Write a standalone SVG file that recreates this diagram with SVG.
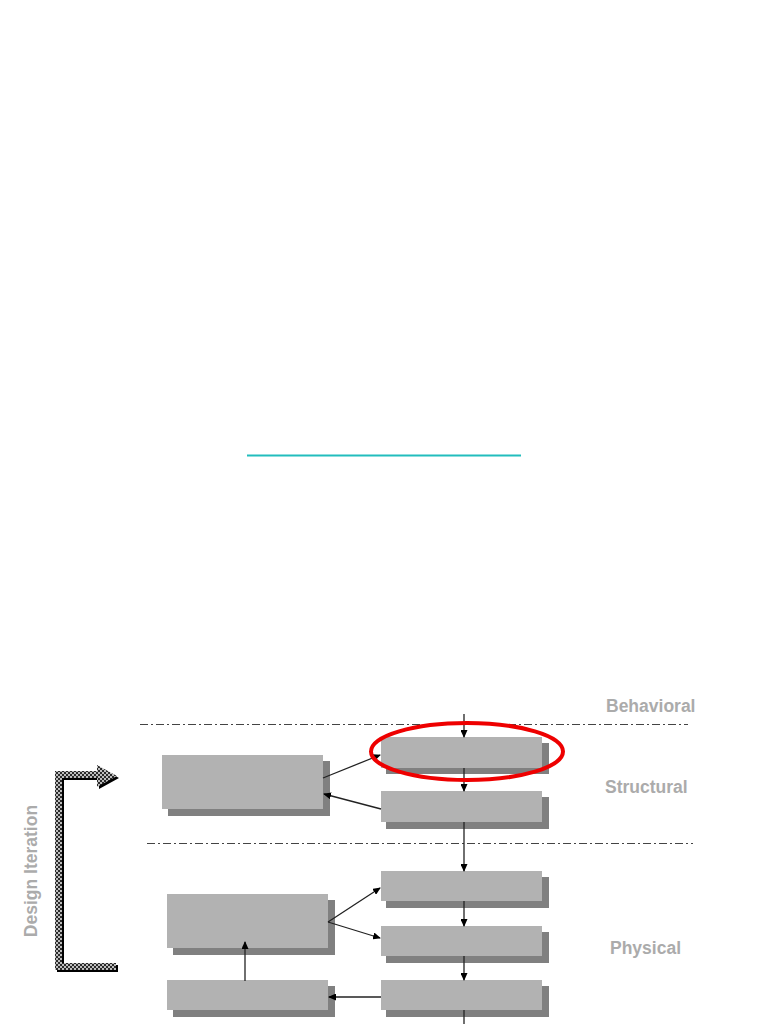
<svg xmlns="http://www.w3.org/2000/svg" width="768" height="1024" viewBox="0 0 768 1024">
<style>
.box{fill:#b2b2b2}
.sh{fill:#808080}
.lbl{font-family:"Liberation Sans",Arial,sans-serif;font-weight:bold;font-size:17.5px;fill:#ababab}
.dd{stroke:#444;stroke-width:1;stroke-dasharray:8,3,2,3;fill:none}
.cn{stroke:#222;stroke-width:1.3;fill:none}
.ca{stroke:#222;stroke-width:1.3;fill:none;marker-end:url(#ah)}
</style>
<defs>
<marker id="ah" markerWidth="8" markerHeight="7" refX="7" refY="3.5" orient="auto" markerUnits="userSpaceOnUse">
<path d="M0,0 L8,3.5 L0,7 Z" fill="#000"/>
</marker>
<pattern id="chk" width="4" height="4" patternUnits="userSpaceOnUse">
<rect width="4" height="4" fill="#bdbdbd"/>
<rect width="2" height="2" fill="#2a2a2a"/>
<rect x="2" y="2" width="2" height="2" fill="#2a2a2a"/>
</pattern>
</defs>
<rect width="768" height="1024" fill="#fff"/>
<line x1="247" y1="455.5" x2="521" y2="455.5" stroke="#22bdbd" stroke-width="2"/>
<g id="separators">
<line class="dd" x1="140" y1="724.5" x2="688" y2="724.5"/>
<line class="dd" x1="147" y1="843.5" x2="693" y2="843.5"/>
</g>
<g id="design-iteration">
<path d="M57,773 L99,773 L99,767 L119,778 L99,789 L99,780 L64,780 L64,965 L118,965 L118,972 L57,972 Z" fill="#000"/>
<path d="M55,771 L97,771 L97,765 L117,776 L97,787 L97,778 L62,778 L62,963 L116,963 L116,970 L55,970 Z" fill="url(#chk)"/>
<text class="lbl" transform="translate(37,871) rotate(-90)" text-anchor="middle">Design Iteration</text>
</g>
<g id="labels">
<text class="lbl" x="606" y="711.5">Behavioral</text>
<text class="lbl" x="605" y="793">Structural</text>
<text class="lbl" x="610" y="954">Physical</text>
</g>
<g id="left-top"><rect class="sh" x="168" y="761" width="162" height="55"/><rect class="box" x="162" y="755" width="161" height="54"/></g>
<g id="left-mid"><rect class="sh" x="173" y="900" width="162" height="55"/><rect class="box" x="167" y="894" width="161" height="54"/></g>
<g id="left-bot"><rect class="sh" x="173" y="986" width="162" height="31"/><rect class="box" x="167" y="980" width="161" height="30"/></g>
<g id="r1"><rect class="sh" x="386" y="743" width="163" height="31"/><rect class="box" x="381" y="737" width="161" height="31"/></g>
<g id="r2"><rect class="sh" x="386" y="797" width="163" height="32"/><rect class="box" x="381" y="791" width="161" height="31"/></g>
<g id="r3"><rect class="sh" x="386" y="877" width="163" height="31"/><rect class="box" x="381" y="871" width="161" height="30"/></g>
<g id="r4"><rect class="sh" x="386" y="932" width="163" height="31"/><rect class="box" x="381" y="926" width="161" height="30"/></g>
<g id="r5"><rect class="sh" x="386" y="986" width="163" height="31"/><rect class="box" x="381" y="980" width="161" height="30"/></g>
<g id="connectors">
<line class="ca" x1="464" y1="714" x2="464" y2="737"/>
<line class="ca" x1="464" y1="768" x2="464" y2="791"/>
<line class="ca" x1="464" y1="822" x2="464" y2="871"/>
<line class="ca" x1="464" y1="901" x2="464" y2="926"/>
<line class="ca" x1="464" y1="956" x2="464" y2="980"/>
<line class="cn" x1="464" y1="1010" x2="464" y2="1024"/>
<line class="ca" x1="323" y1="778" x2="380" y2="755"/>
<line class="ca" x1="381" y1="809" x2="324" y2="794"/>
<line class="ca" x1="328" y1="922" x2="380" y2="888"/>
<line class="ca" x1="328" y1="922" x2="380" y2="938"/>
<line class="ca" x1="245" y1="981" x2="245" y2="942"/>
<line class="ca" x1="381" y1="997" x2="329" y2="997"/>
</g>
<ellipse id="highlight" cx="467" cy="751.5" rx="96" ry="28.5" fill="none" stroke="#ee0000" stroke-width="4"/>
</svg>
